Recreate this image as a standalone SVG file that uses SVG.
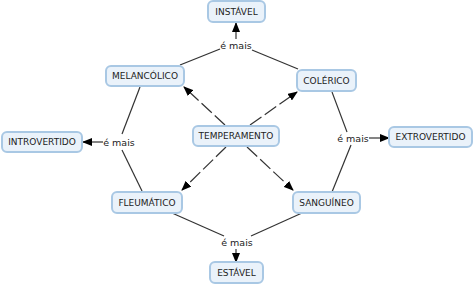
<svg xmlns="http://www.w3.org/2000/svg" width="474" height="285" viewBox="0 0 474 285">
<style>
.box{fill:#eaf2fa;stroke:#a9c8e4;stroke-width:2}
.t{font-family:"DejaVu Sans",Verdana,sans-serif;font-size:9px;fill:#222;text-anchor:middle;dominant-baseline:central}
.l{font-family:"DejaVu Sans",Verdana,sans-serif;font-size:9.5px;fill:#222;text-anchor:middle;dominant-baseline:central}
.c{stroke:#333;stroke-width:1.2;fill:none}
.a{marker-end:url(#ah)}
.d{stroke-dasharray:14 4}
</style>
<defs>
<marker id="ah" markerUnits="userSpaceOnUse" markerWidth="10" markerHeight="8" refX="9" refY="4" orient="auto">
<path d="M0,0 L10,4 L0,8 Z" fill="#000"/>
</marker>
</defs>
<rect width="474" height="285" fill="#fff"/>
<g id="connectors">
<line class="c" x1="180" y1="65" x2="220" y2="49"/>
<line class="c" x1="298" y1="69" x2="252" y2="50"/>
<line class="c a" x1="236" y1="39" x2="236" y2="23"/>
<line class="c" x1="140" y1="87" x2="122" y2="134"/>
<line class="c" x1="122" y1="150" x2="142" y2="191"/>
<line class="c a" x1="103" y1="142" x2="83" y2="142"/>
<line class="c" x1="332" y1="92" x2="347" y2="132"/>
<line class="c" x1="332" y1="192" x2="351" y2="145"/>
<line class="c a" x1="369" y1="138" x2="389" y2="138"/>
<line class="c" x1="172" y1="213" x2="224" y2="236"/>
<line class="c" x1="302" y1="213" x2="251" y2="236"/>
<line class="c a" x1="236" y1="249" x2="236" y2="262"/>
<line class="c a d" x1="225" y1="125" x2="184" y2="87"/>
<line class="c a d" x1="250" y1="125" x2="297" y2="92"/>
<line class="c a d" x1="226" y1="147" x2="182" y2="190"/>
<line class="c a d" x1="247" y1="147" x2="293" y2="190"/>
</g>
<g id="labels">
<text class="l" x="236" y="45">é mais</text>
<text class="l" x="119" y="142">é mais</text>
<text class="l" x="353" y="138">é mais</text>
<text class="l" x="237" y="242">é mais</text>
</g>
<g id="instavel"><rect class="box" x="208" y="1" width="57" height="21" rx="5"/><text class="t" x="236.5" y="11.5">INSTÁVEL</text></g>
<g id="melancolico"><rect class="box" x="106" y="66" width="78" height="20" rx="5"/><text class="t" x="145" y="76">MELANCÓLICO</text></g>
<g id="colerico"><rect class="box" x="297" y="70" width="59" height="21" rx="5"/><text class="t" x="326.5" y="80.5">COLÉRICO</text></g>
<g id="introvertido"><rect class="box" x="2" y="132" width="80" height="20" rx="5"/><text class="t" x="42" y="142">INTROVERTIDO</text></g>
<g id="temperamento"><rect class="box" x="193" y="126" width="86" height="20" rx="5"/><text class="t" x="236" y="136">TEMPERAMENTO</text></g>
<g id="extrovertido"><rect class="box" x="389" y="127" width="83" height="20" rx="5"/><text class="t" x="430.5" y="137">EXTROVERTIDO</text></g>
<g id="fleumatico"><rect class="box" x="112" y="192" width="70" height="21" rx="5"/><text class="t" x="147" y="202.5">FLEUMÁTICO</text></g>
<g id="sanguineo"><rect class="box" x="293" y="192" width="67" height="21" rx="5"/><text class="t" x="326.5" y="202.5">SANGUÍNEO</text></g>
<g id="estavel"><rect class="box" x="210" y="262" width="53" height="21" rx="5"/><text class="t" x="236.5" y="272.5">ESTÁVEL</text></g>
</svg>
